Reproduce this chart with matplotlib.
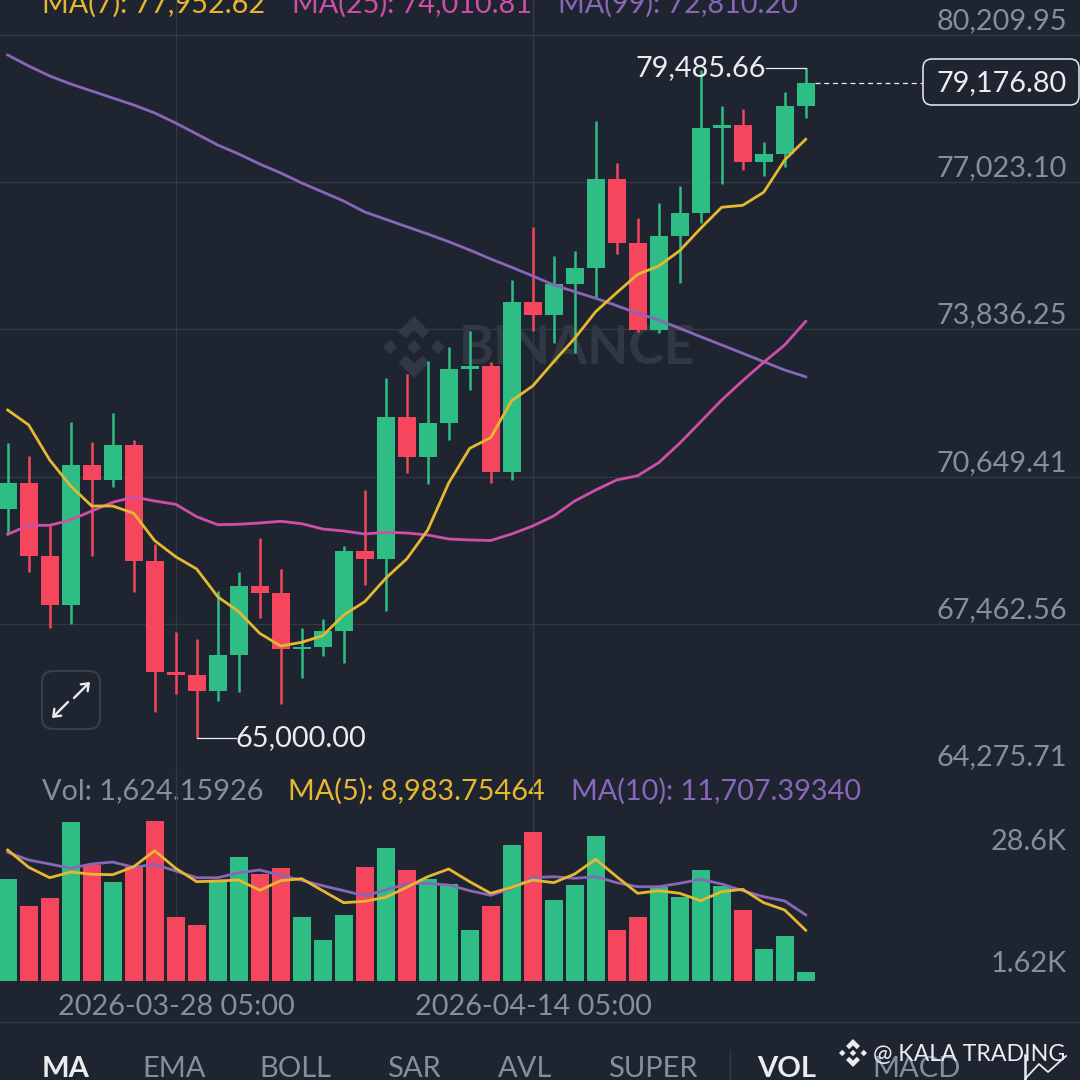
# python plot.py
import matplotlib
matplotlib.use("Agg")

import matplotlib.pyplot as plt
from matplotlib.patches import FancyBboxPatch, Polygon
import numpy as np

# candle values
opens = [69942, 70518, 68931, 67863, 70907, 70576, 71340, 68829, 66413, 66361,
	66014, 66794, 68288, 68123, 66911, 66967, 67300, 69032, 68859, 71933,
	71080, 71804, 72973, 73044, 70756, 74423, 74148, 74819, 75159, 77086,
	75714, 73823, 75852, 76350, 78190, 78268, 77461, 77634, 78673]
highs = [71371, 71096, 69587, 71825, 71405, 72033, 71442, 69190, 67292, 67127,
	68166, 68591, 69314, 68656, 67372, 67567, 69147, 70359, 72778, 72864,
	73152, 73449, 73808, 73137, 74906, 76047, 75432, 75540, 78348, 77433,
	76255, 76567, 76941, 79452, 78680, 78602, 77900, 78970, 79485.66]
lows = [69422, 68578, 67365, 67452, 68937, 70418, 68158, 65560, 65936, 65000,
	65798, 65993, 67582, 65720, 66283, 66772, 66621, 68309, 67746, 70721,
	70483, 71442, 72524, 70518, 70576, 73808, 73536, 73319, 74544, 75462,
	73787, 73752, 74835, 76147, 76984, 77287, 77158, 77346, 78420]
closes = [70518, 68931, 67863, 70907, 70576, 71340, 68829, 66413, 66361, 66014,
	66794, 68288, 68123, 66911, 66967, 67300, 69032, 68859, 71933, 71080,
	71804, 72973, 73044, 70756, 74423, 74148, 74819, 75159, 77086, 75714,
	73823, 75852, 76350, 78190, 78268, 77461, 77634, 78673, 79176.80]

# moving averages on the price pane
ma7 = [72091, 71767, 71009, 70446, 70013, 70013, 69855, 69262, 68915, 68649,
	68049, 67725, 67257, 66982, 67062, 67205, 67653, 67941, 68448, 68866,
	69493, 70511, 71262, 71492, 72293, 72611, 73137, 73644, 74220, 74631,
	75029, 75209, 75540, 76025, 76480, 76523, 76805, 77504, 77952.62]
ma25 = [69400, 69595, 69595, 69710, 69905, 70093, 70208, 70121, 70050, 69781,
	69608, 69617, 69645, 69682, 69630, 69515, 69472, 69407, 69444, 69429,
	69385, 69299, 69277, 69266, 69407, 69580, 69797, 70121, 70359, 70576,
	70669, 70951, 71371, 71838, 72308, 72726, 73124, 73499, 74010.81]
ma99 = [79777, 79539, 79323, 79149, 78998, 78846, 78695, 78522, 78305, 78067,
	77829, 77634, 77417, 77223, 77006, 76811, 76616, 76378, 76220, 76060,
	75902, 75735, 75555, 75361, 75181, 74993, 74798, 74653, 74510, 74350,
	74185, 74040, 73860, 73678, 73499, 73319, 73137, 72957, 72810.20]

# volume pane
volumes = [18000, 13275, 14691, 28090, 20532, 17576, 20231, 28320, 11381, 9965,
	17877, 21895, 18886, 20001, 11328, 7310, 11629, 20125, 23488, 19647,
	18000, 17169, 8974, 13328, 24019, 26320, 14284, 16939, 25718, 9027,
	11275, 16691, 14815, 19594, 16762, 12567, 5611, 7912, 1624.16]
vol_ma5 = [23187, 20125, 18284, 19293, 18886, 18815, 20231, 23063, 19948, 17576,
	17700, 17877, 16054, 17753, 18107, 15983, 13859, 14107, 14815, 16585,
	18461, 19824, 17576, 15523, 16585, 17877, 17399, 18939, 21541, 18461,
	15523, 15983, 15523, 14213, 15806, 16231, 13859, 12567, 8983.75]
vol_ma10 = [22780, 21417, 20709, 19948, 20709, 21063, 20125, 20656, 19470, 18284,
	18284, 19169, 19647, 18709, 17824, 16868, 15983, 15098, 16107, 17169,
	17293, 16992, 15983, 15169, 16408, 18284, 18461, 18178, 18461, 17399,
	16691, 16691, 17293, 18001, 17169, 15983, 14921, 14160, 11707.39]

# axis ticks and labels
price_ticks = [80209.95, 77023.10, 73836.25, 70649.41, 67462.56, 64275.71]
date_idx = [8, 25]
date_labels = ["2026-03-28 05:00", "2026-04-14 05:00"]
vol_ticks = ["28.6K", "1.62K"]
tab_names = ["MA", "EMA", "BOLL", "SAR", "AVL", "SUPER", "VOL", "MACD"]
tab_active = ["MA", "VOL"]

BG = "#1e2530"
GRID = "#323944"
GREEN = "#2ebd85"
RED = "#f6465d"
YELLOW = "#e8b730"
PINK = "#cf4fa8"
PURPLE = "#8a66b8"
GREY = "#858e9c"
WHITE = "#eaecef"
FONT = "Lato"
SIZE = 20.8

fig = plt.figure(figsize=(10.8, 10.8), dpi=100, facecolor=BG)
plt.rcParams["font.family"] = FONT

# everything that is not data goes on this layer, in picture pixels
ui = fig.add_axes([0, 0, 1, 1], zorder=0)
ui.set_xlim(0, 1080)
ui.set_ylim(1080, 0)
ui.axis("off")

ax = fig.add_axes([0, 1 - 771 / 1080, 1, 771 / 1080], zorder=1)
vx = fig.add_axes([0, 1 - 981 / 1080, 1, 210 / 1080], zorder=1)
for a in (ax, vx):
	a.patch.set_alpha(0)
	a.set_xlim(-7.7 / 21, (1080 - 7.7) / 21)
	for s in a.spines.values():
		s.set_visible(False)
	a.tick_params(length=0, labelleft=False, labelbottom=False)
	a.set_xticks(date_idx)
	a.grid(True, color=GRID, lw=1.0)
	a.set_axisbelow(True)
ax.set_ylim(64275.71, 80967.7)
ax.set_yticks(price_ticks)
vx.set_ylim(0, 37170)
vx.set_yticks([0])

x = np.arange(len(opens))
o = np.array(opens)
c = np.array(closes)
colors = [GREEN if cl >= op else RED for op, cl in zip(opens, closes)]

# candles
ax.vlines(x, lows, highs, colors=colors, lw=1.8, zorder=2)
ax.bar(x, np.abs(c - o), bottom=np.minimum(o, c), width=0.87, color=colors, zorder=3)
ax.plot(x, ma99, color=PURPLE, lw=2.0, zorder=4)
ax.plot(x, ma25, color=PINK, lw=2.0, zorder=4)
ax.plot(x, ma7, color=YELLOW, lw=2.0, zorder=4)

# volume
vx.bar(x, volumes, width=0.87, color=colors, zorder=3)
vx.plot(x, vol_ma10, color=PURPLE, lw=2.0, zorder=4)
vx.plot(x, vol_ma5, color=YELLOW, lw=2.0, zorder=4)

# last price line and high / low callouts
ax.plot([x[-1] + 0.45, 43.6], [closes[-1], closes[-1]], color=WHITE, lw=0.9, dashes=(4, 3), zorder=2)
ax.plot([x[-1], 36.1], [highs[-1], highs[-1]], color=WHITE, lw=0.9, zorder=2)
ax.plot([9, 10.85], [lows[9], lows[9]], color=WHITE, lw=0.9, zorder=2)
ax.text(36.1, highs[-1], "{:,.2f}".format(highs[-1]), color=WHITE, fontsize=SIZE,
	ha="right", va="center", zorder=6)
ax.text(10.87, lows[9] - 20, "{:,.2f}".format(lows[9]), color=WHITE, fontsize=SIZE,
	ha="left", va="center", zorder=6)

# price labels on the right
for t in price_ticks:
	ax.annotate("{:,.2f}".format(t), (1067 / 1080, t), xycoords=ax.get_yaxis_transform(),
		xytext=(0, 14), textcoords="offset pixels", color=GREY, fontsize=SIZE,
		ha="right", va="center", zorder=6)

box = FancyBboxPatch((923, 59), 156, 46, boxstyle="round,pad=0,rounding_size=9",
	fc=BG, ec=WHITE, lw=1.1, zorder=5)
ui.add_patch(box)
ax.text(1067 / 1080, closes[-1], "{:,.2f}".format(closes[-1]), color=WHITE, fontsize=SIZE,
	ha="right", va="center", transform=ax.get_yaxis_transform(), zorder=6)

# header rows
ui.text(42, 4, "MA(7): {:,.2f}".format(ma7[-1]), color=YELLOW, fontsize=SIZE, va="center")
ui.text(292, 4, "MA(25): {:,.2f}".format(ma25[-1]), color=PINK, fontsize=SIZE, va="center")
ui.text(558, 4, "MA(99): {:,.2f}".format(ma99[-1]), color=PURPLE, fontsize=SIZE, va="center")
ui.text(42, 791, "Vol: {:,.5f}".format(1624.15926), color=GREY, fontsize=SIZE, va="center")
ui.text(288, 791, "MA(5): {:,.5f}".format(8983.75464), color=YELLOW, fontsize=SIZE, va="center")
ui.text(571, 791, "MA(10): {:,.5f}".format(11707.39340), color=PURPLE, fontsize=SIZE, va="center")

# volume labels, dates, bottom frame
ui.text(1067, 842, vol_ticks[0], color=GREY, fontsize=SIZE, ha="right", va="center")
ui.text(1067, 964, vol_ticks[1], color=GREY, fontsize=SIZE, ha="right", va="center")
ui.text(176, 1007, date_labels[0], color=GREY, fontsize=SIZE, ha="center", va="center")
ui.text(533, 1007, date_labels[1], color=GREY, fontsize=SIZE, ha="center", va="center")
ui.plot([0, 1080], [1022, 1022], color=GRID, lw=1.0)
ui.plot([730, 730], [1050, 1080], color=GRID, lw=1.0)

# tabs along the bottom
tab_x = [42, 142, 259, 387, 498, 608, 757, 872]
for name, tx in zip(tab_names, tab_x):
	on = name in tab_active
	ui.text(tx, 1069, name, color=WHITE if on else GREY, fontsize=21,
		fontweight="bold" if on else "normal", va="center")

# chart type icon in the corner
ui.plot([1025, 1025], [1055, 1080], color=WHITE, lw=1.8)
ui.plot([1025, 1039, 1048, 1066], [1079, 1064, 1072, 1056], color=WHITE, lw=1.3)


def logo(cx, cy, r, col, z=1):
	# the exchange mark, two chevrons and three small diamonds
	top = [(0, -1), (.5, -.5), (.27, -.27), (0, -.54), (-.27, -.27), (-.5, -.5)]
	bot = [(px, -py) for px, py in top]
	parts = [top, bot]
	for dx, d in ((-.77, .23), (.77, .23), (0, .23)):
		parts.append([(dx, -d), (dx + d, 0), (dx, d), (dx - d, 0)])
	for p in parts:
		ui.add_patch(Polygon([(cx + r * a, cy + r * b) for a, b in p], fc=col, ec="none", zorder=z))


# watermarks
logo(414, 347, 31, "#313844")
ui.text(459, 348, "BINANCE", color="#313844", fontsize=38.5, fontweight="bold", va="center", zorder=1)
logo(853, 1053, 14, WHITE, z=7)
ui.text(873, 1054, "@ KALA TRADING", color=WHITE, fontsize=16.7, va="center", zorder=7)

# expand button
ui.add_patch(FancyBboxPatch((42, 671), 58, 58, boxstyle="round,pad=0,rounding_size=11",
	fc="none", ec="#383f4a", lw=1.5))
ui.annotate("", xy=(90, 682), xytext=(74, 698),
	arrowprops=dict(arrowstyle="->,head_length=0.45,head_width=0.35", color=WHITE, lw=1.7, shrinkA=0, shrinkB=0))
ui.annotate("", xy=(52, 718), xytext=(68, 702),
	arrowprops=dict(arrowstyle="->,head_length=0.45,head_width=0.35", color=WHITE, lw=1.7, shrinkA=0, shrinkB=0))

plt.savefig("out.png", dpi=100, facecolor=BG)
